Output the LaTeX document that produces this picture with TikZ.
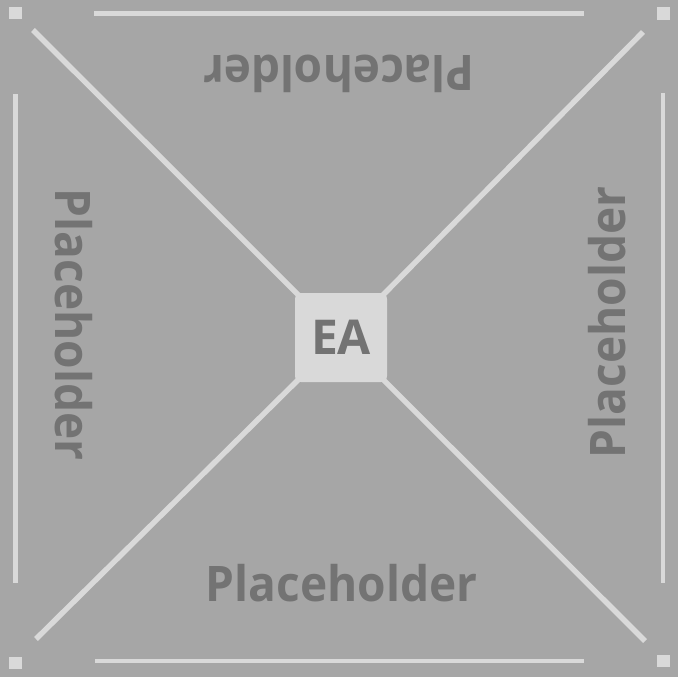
\documentclass[tikz,border=0pt]{standalone}
\usepackage{fontspec}
\newfontfamily\labelfont{Open Sans}
\definecolor{bgc}{HTML}{A6A6A6}
\definecolor{linec}{HTML}{D9D9D9}
\definecolor{txtc}{HTML}{737373}
\newcommand{\phtext}{\scalebox{0.94}[1]{Placeholder}}
\begin{document}
\begin{tikzpicture}[x=1pt,y=-1pt,
  diag/.style={draw=linec,line width=5.4pt},
  rim/.style={draw=linec,line width=4.8pt},
  dot/.style={fill=linec},
  ph/.style={text=txtc,inner sep=0pt,anchor=base,font=\labelfont\bfseries\fontsize{49}{49}\selectfont},
  eabox/.style={fill=linec,rounded corners=6pt,minimum width=92pt,minimum height=89pt,inner sep=0pt,text=txtc,font=\labelfont\bfseries\fontsize{48}{48}\selectfont}]
\useasboundingbox (0,0) rectangle (678,677);
\fill[bgc] (0,0) rectangle (678,677);
% corner squares
\fill[dot] (9,7) rectangle (21.5,19.5);
\fill[dot] (657,7) rectangle (670,20);
\fill[dot] (9,657) rectangle (22,669);
\fill[dot] (657,655) rectangle (670,667);
% rim lines
\coordinate (t1) at (94,13.3); \coordinate (t2) at (584,13.3);
\coordinate (b1) at (95,661); \coordinate (b2) at (584,661);
\coordinate (l1) at (15.5,94); \coordinate (l2) at (15.5,583);
\coordinate (r1) at (663,93); \coordinate (r2) at (663,583);
\draw[rim] (t1) -- (t2);
\draw[rim] (b1) -- (b2);
\draw[rim] (l1) -- (l2);
\draw[rim] (r1) -- (r2);
% diagonals
\coordinate (c) at (341,337.5);
\coordinate (tl) at (33,30);
\coordinate (tr) at (643,32);
\coordinate (bl) at (36,639);
\coordinate (br) at (645,641);
\draw[diag] (tl) -- (c);
\draw[diag] (tr) -- (c);
\draw[diag] (bl) -- (c);
\draw[diag] (br) -- (c);
\node[eabox] (ea) at (c) {EA};
% labels
\node[ph] (pb) at (341.5,601) {\phtext};
\node[ph,rotate=180] (pt) at (339,56) {\phtext};
\node[ph,rotate=-90] (pl) at (55,324.5) {\phtext};
\node[ph,rotate=90] (pr) at (625,322.5) {\phtext};
\end{tikzpicture}
\end{document}
